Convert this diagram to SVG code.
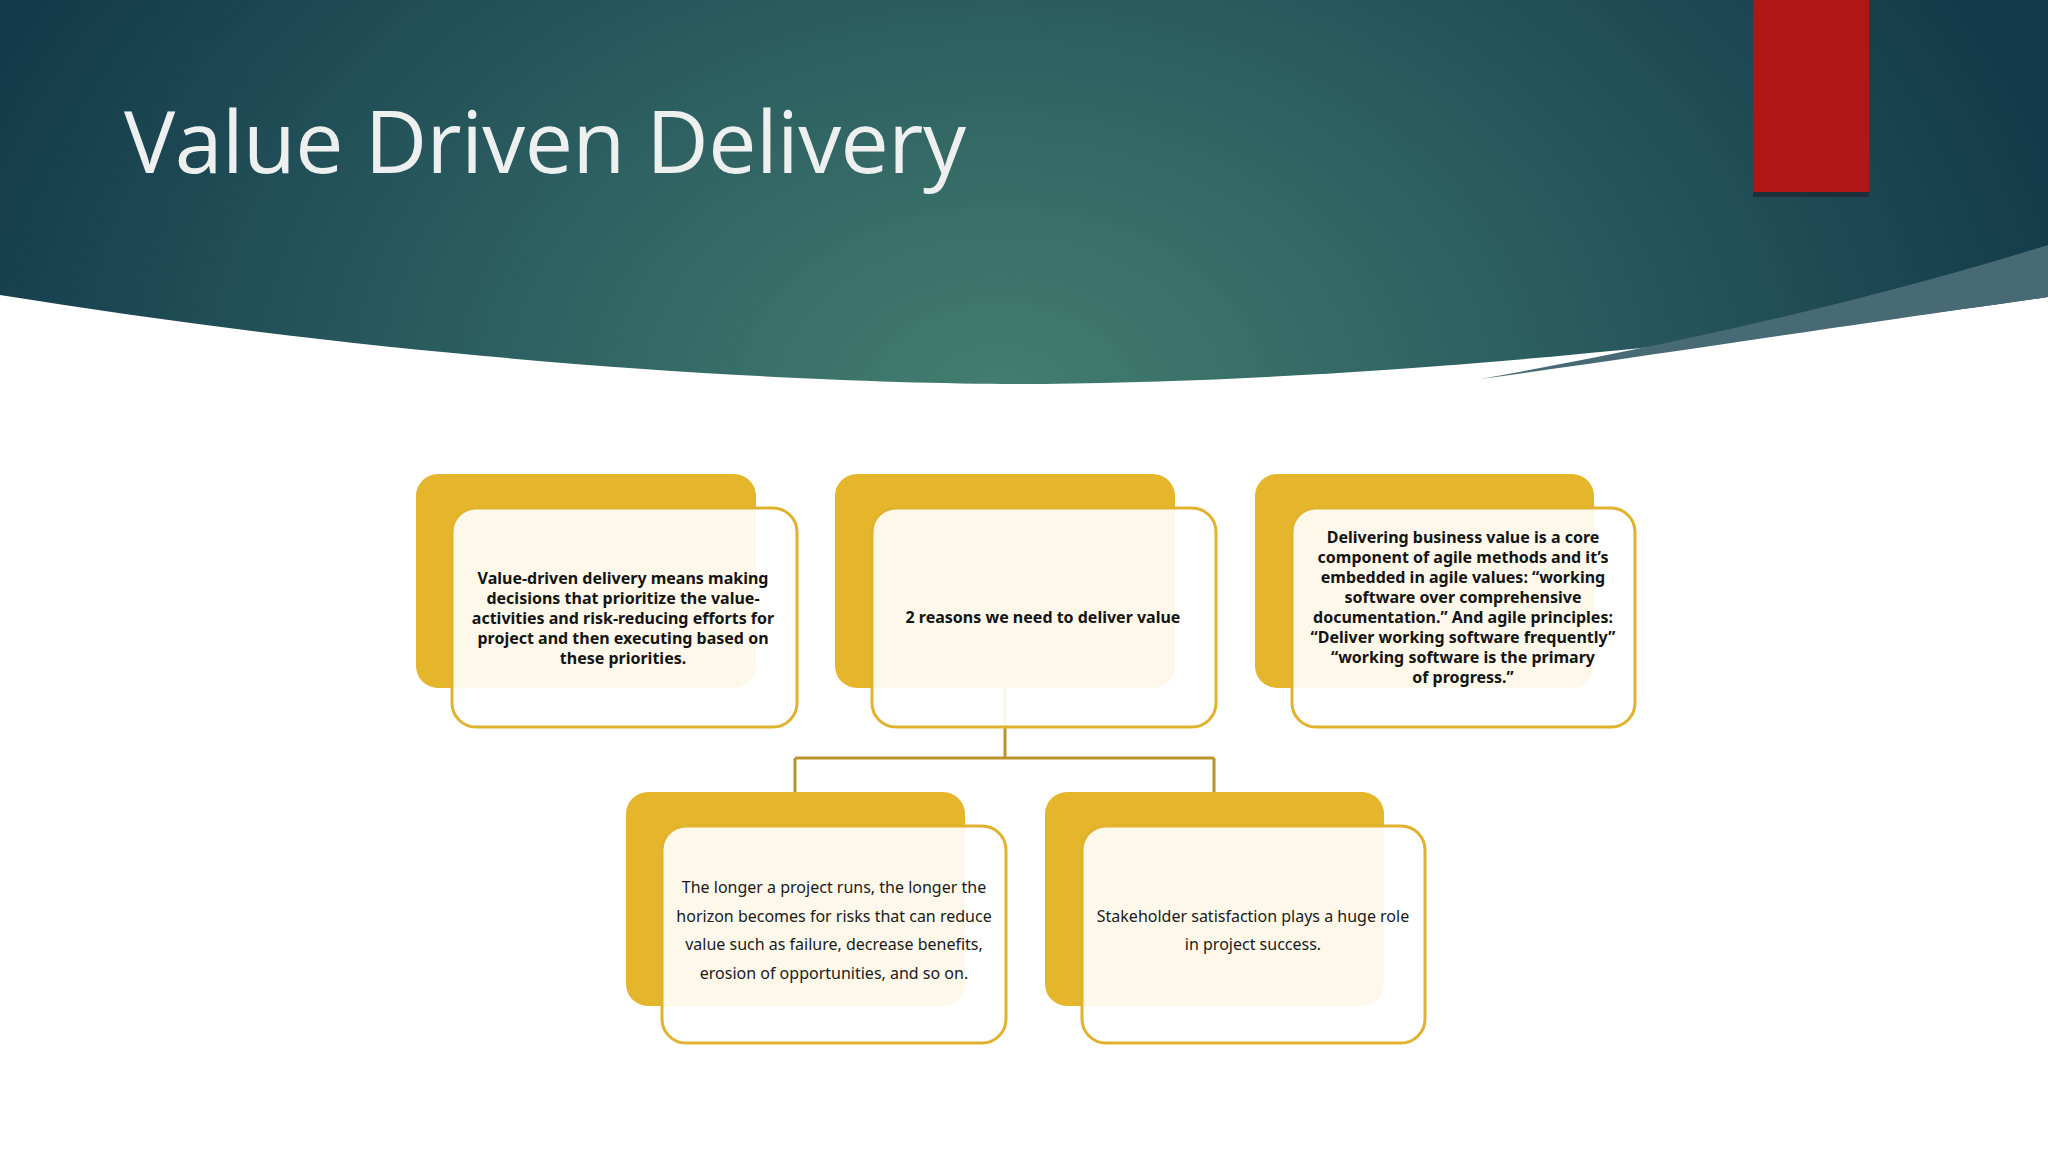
<svg xmlns="http://www.w3.org/2000/svg" width="2048" height="1152" viewBox="0 0 2048 1152">
  <defs>
    <radialGradient id="bg" gradientUnits="userSpaceOnUse" cx="1000" cy="400" r="1000" gradientTransform="translate(1000 400) scale(1.1 0.8) translate(-1000 -400)">
      <stop offset="0" stop-color="#437e6f"/>
      <stop offset="0.5" stop-color="#2b5d60"/>
      <stop offset="1" stop-color="#133a4a"/>
    </radialGradient>
    <style>
      .back { fill: #e5b62b; }
      .front { fill: #ffffff; fill-opacity: 0.9; stroke: #e0b22e; stroke-width: 3; }
      .bold { font-family: "Noto Sans", "Open Sans", sans-serif; font-weight: 700; font-size: 16px; fill: #141414; text-anchor: middle; }
      .reg { font-family: "Noto Sans", "Open Sans", sans-serif; font-weight: 400; font-size: 16px; fill: #1a1a1a; text-anchor: middle; }
      .conn { fill: none; stroke: #b8952c; stroke-width: 3; }
    </style>
  </defs>
  <rect width="2048" height="1152" fill="#ffffff"/>
  <g id="header">
    <path d="M0 0 H2048 V297 C1750 340 1400 380 1044 384 C800 385 400 360 0 295 Z" fill="url(#bg)"/>
    <path d="M1480 379 Q1800 322 2048 245 V297 C1800 332 1650 356 1480 379 Z" fill="#476a74"/>
    <rect x="1753" y="192" width="116" height="5" fill="#1b2b33" opacity="0.8"/>
    <rect x="1753" y="0" width="116" height="192" fill="#b01616"/>
    <text x="124" y="173" font-family="Open Sans, sans-serif" font-weight="400" font-size="86" fill="#eef0f0" textLength="842" lengthAdjust="spacing">Value Driven Delivery</text>
  </g>
  <g id="connectors">
    <path class="conn" d="M1005 688 V758 M795 758 H1214 M795 758 V792 M1214 758 V792"/>
  </g>
  <g id="node1">
    <rect class="back" x="416" y="474" width="340" height="214" rx="22"/>
    <rect class="front" x="452" y="508" width="345" height="219" rx="24"/>
    <text class="bold"><tspan x="623" y="584">Value-driven delivery means making</tspan><tspan x="623" y="604">decisions that prioritize the value-</tspan><tspan x="623" y="624">activities and risk-reducing efforts for</tspan><tspan x="623" y="644">project and then executing based on</tspan><tspan x="623" y="664">these priorities.</tspan></text>
  </g>
  <g id="node2">
    <rect class="back" x="835" y="474" width="340" height="214" rx="22"/>
    <rect class="front" x="872" y="508" width="344" height="219" rx="24"/>
    <text class="bold" x="1043" y="623">2 reasons we need to deliver value</text>
  </g>
  <g id="node3">
    <rect class="back" x="1255" y="474" width="339" height="214" rx="22"/>
    <rect class="front" x="1292" y="508" width="343" height="219" rx="24"/>
    <text class="bold"><tspan x="1463" y="543">Delivering business value is a core</tspan><tspan x="1463" y="563">component of agile methods and it’s</tspan><tspan x="1463" y="583">embedded in agile values: “working</tspan><tspan x="1463" y="603">software over comprehensive</tspan><tspan x="1463" y="623">documentation.” And agile principles:</tspan><tspan x="1463" y="643">“Deliver working software frequently”</tspan><tspan x="1463" y="663">“working software is the primary</tspan><tspan x="1463" y="683">of progress.”</tspan></text>
  </g>
  <g id="node4">
    <rect class="back" x="626" y="792" width="339" height="214" rx="22"/>
    <rect class="front" x="662" y="826" width="344" height="217" rx="24"/>
    <text class="reg"><tspan x="834" y="893">The longer a project runs, the longer the</tspan><tspan x="834" y="922">horizon becomes for risks that can reduce</tspan><tspan x="834" y="950">value such as failure, decrease benefits,</tspan><tspan x="834" y="979">erosion of opportunities, and so on.</tspan></text>
  </g>
  <g id="node5">
    <rect class="back" x="1045" y="792" width="339" height="214" rx="22"/>
    <rect class="front" x="1082" y="826" width="343" height="217" rx="24"/>
    <text class="reg"><tspan x="1253" y="922">Stakeholder satisfaction plays a huge role</tspan><tspan x="1253" y="950">in project success.</tspan></text>
  </g>
</svg>
